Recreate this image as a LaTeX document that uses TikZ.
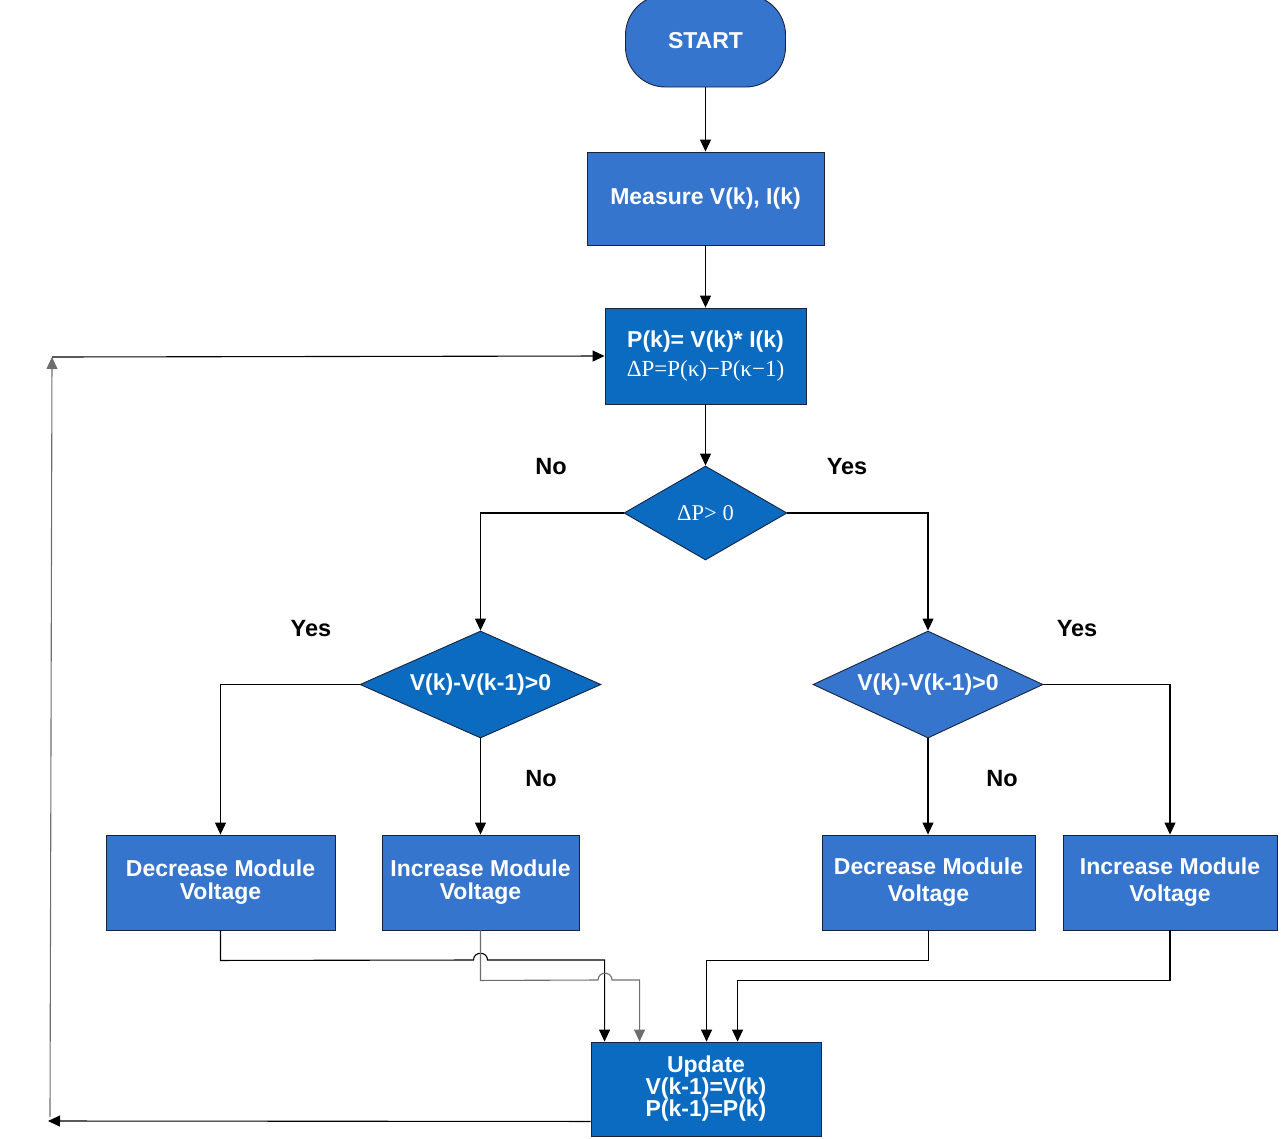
\documentclass[tikz,border=0pt]{standalone}
\usepackage{fontspec}
\setmainfont{Liberation Sans}
\newfontfamily\seriffont{Liberation Serif}
\usetikzlibrary{shapes.geometric,arrows.meta}
\definecolor{lightblue}{RGB}{54,117,205}
\definecolor{darkblue}{RGB}{10,107,193}
\definecolor{edgecol}{RGB}{25,35,60}
\definecolor{linegray}{RGB}{110,110,110}
\begin{document}
\begin{tikzpicture}[x=1pt,y=-1pt,
 box/.style={draw=edgecol, line width=0.9pt, text=white, font=\bfseries\fontsize{23}{23}\selectfont, align=center, inner sep=0pt},
 dia/.style={diamond, draw=edgecol, line width=0.9pt, text=white, inner sep=0pt, align=center},
 conn/.style={line width=1.1pt},
 arr/.style={line width=1.1pt, -{Triangle[length=12pt,width=11pt]}},
 lbl/.style={font=\bfseries\fontsize{23.5}{24}\selectfont, text=black}
]
\useasboundingbox (0,0) rectangle (1287,1138);

% nodes
\node[box, fill=lightblue, rounded corners=40pt, minimum width=160pt, minimum height=92pt] (start) at (705.5,41) {START};
\node[box, fill=lightblue, minimum width=237pt, minimum height=93pt] (meas) at (705.5,198.5) {Measure V(k), I(k)};
\node[box, fill=darkblue, minimum width=201pt, minimum height=96pt, font=\bfseries\fontsize{23}{29}\selectfont] (pk) at (705.5,356) {P(k)= V(k)* I(k)\\{\seriffont\mdseries\fontsize{23}{29}\selectfont ΔP=P(κ)−P(κ−1)}};
\node[dia, fill=darkblue, shape aspect=1.73, minimum width=163pt, minimum height=94pt, font=\seriffont\fontsize{22.5}{23}\selectfont] (d0) at (705.5,513) {ΔP> 0};
\node[dia, fill=darkblue, shape aspect=2.25, minimum width=241pt, minimum height=107pt, font=\bfseries\fontsize{23}{23}\selectfont] (dl) at (480.5,684.5) {V(k)-V(k-1)>0};
\node[dia, fill=lightblue, shape aspect=2.15, minimum width=230pt, minimum height=107pt, font=\bfseries\fontsize{23}{23}\selectfont] (dr) at (928,684.5) {V(k)-V(k-1)>0};
\node[box, fill=lightblue, minimum width=229pt, minimum height=95pt] (decl) at (220.5,882.5) {Decrease Module\\Voltage};
\node[box, fill=lightblue, minimum width=197pt, minimum height=95pt] (incl) at (480.5,882.5) {Increase Module\\Voltage};
\node[box, fill=lightblue, minimum width=213pt, minimum height=95pt, font=\bfseries\fontsize{23}{27}\selectfont] (decr) at (928.5,882.5) {Decrease Module\\Voltage};
\node[box, fill=lightblue, minimum width=214pt, minimum height=95pt, font=\bfseries\fontsize{23}{27}\selectfont] (incr) at (1170,882.5) {Increase Module\\Voltage};
\node[box, fill=darkblue, minimum width=230pt, minimum height=94pt, font=\bfseries\fontsize{23}{22}\selectfont] (upd) at (706,1089) {Update\\V(k-1)=V(k)\\P(k-1)=P(k)};

% labels
\node[lbl] (lno0) at (551,467) {No};
\node[lbl] (lyes0) at (847,467) {Yes};
\node[lbl] (lyes1) at (311,629) {Yes};
\node[lbl] (lno1) at (541,779) {No};
\node[lbl] (lno2) at (1002,779) {No};
\node[lbl] (lyes2) at (1077,629) {Yes};

% main flow
\draw[arr] (start.south) -- (meas.north);
\draw[arr] (meas.south) -- (pk.north);
\draw[arr] (pk.south) -- (d0.north);
\draw[arr] (d0.west) -| (dl.north);
\draw[arr] (d0.east) -| (dr.north);
\draw[arr] (dl.west) -| (decl.north);
\draw[arr] (dl.south) -- (incl.north);
\draw[arr] (dr.south) -- (dr.south |- decr.north);
\draw[arr] (dr.east) -| (incr.north);

% to update
\draw[arr] (decl.south) -- ++(0,30) -- (473.5,960) .. controls (473.5,951) and (487.5,951) .. (487.5,960) -| ([xshift=14pt]upd.north west);
\draw[arr, draw=linegray] (incl.south) -- ++(0,50) -- (598,980) .. controls (598,971) and (612,971) .. (612,980) -| ([xshift=49pt]upd.north west);
\draw[arr] (decr.south) -- ++(0,30) -| ([xshift=116pt]upd.north west);
\draw[arr] (incr.south) -- ++(0,50) -| ([xshift=147pt]upd.north west);

% loop back
\coordinate (lc1) at (48,1121);
\coordinate (lc2) at (50,1117);
\coordinate (lc3) at (52,357);
\draw[arr] ([yshift=15pt]upd.south west) -- (lc1);
\draw[arr, draw=linegray] (lc2) -- (lc3);
\draw[arr] (lc3) -- (pk.west);
\end{tikzpicture}
\end{document}
